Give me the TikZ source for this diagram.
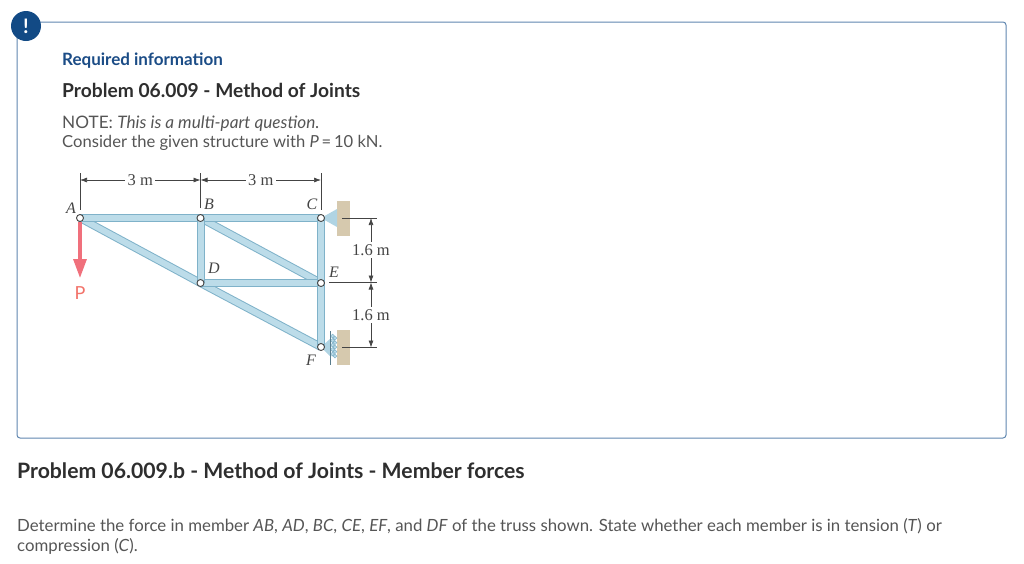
\documentclass[tikz,border=0pt]{standalone}
\usepackage{fontspec}
\setmainfont{Lato}
\newfontfamily\figfont{Liberation Serif}
\usetikzlibrary{backgrounds, arrows.meta}
\definecolor{framecol}{HTML}{5F86AF}
\definecolor{badgecol}{HTML}{124A85}
\definecolor{headcol}{HTML}{1B4C86}
\definecolor{titlecol}{HTML}{2E2E2E}
\definecolor{bodycol}{HTML}{555555}
\definecolor{edgecol}{HTML}{7FB2C9}
\definecolor{barcol}{HTML}{BCDCE9}
\definecolor{wallcol}{HTML}{D6C9AE}
\definecolor{loadcol}{HTML}{F0707C}
\definecolor{dimcol}{HTML}{444444}
\tikzset{
  member/.style={draw=edgecol, line width=1pt, double=barcol, double distance=6pt},
  joint/.style={circle, draw=dimcol, fill=white, line width=0.9pt, inner sep=0pt, minimum size=7pt},
  txt/.style={anchor=west, inner sep=0pt, font=\fontsize{16.8}{20}\selectfont, text=bodycol},
  letter/.style={inner sep=0pt, font=\figfont\itshape\fontsize{16}{18}\selectfont, text=dimcol},
  dimline/.style={draw=dimcol, line width=0.7pt, {Latex[length=7pt,width=5pt]}-{Latex[length=7pt,width=5pt]}},
  extline/.style={draw=dimcol, line width=0.8pt},
  dimtext/.style={fill=white, inner sep=2.5pt, font=\figfont\fontsize{16.5}{18}\selectfont, text=dimcol},
  wall/.style={fill=wallcol, draw=none}
}
\begin{document}
\begin{tikzpicture}[x=1pt, y=-1pt, >=latex]
  \useasboundingbox (0,0) rectangle (1024,563);
  \draw [framecol, line width=1pt, rounded corners=3pt] (17,22) rectangle (1006,438);
  \node (badge) at (26,26) [circle, fill=badgecol, minimum size=30pt, inner sep=0pt, text=white, font=\bfseries\fontsize{20}{20}\selectfont] {!};

  \node (required) at (62,61) [txt, text=headcol, font=\bfseries\fontsize{17}{20}\selectfont] {Required information};
  \node (problem) at (62,90.5) [txt, text=titlecol, font=\bfseries\fontsize{19.2}{23}\selectfont] {Problem 06.009 - Method of Joints};
  \node (note) at (62,123.5) [txt, font=\fontsize{17.2}{20}\selectfont] {NOTE: \textit{This is a multi-part question.}};
  \node (given) at (62,143) [txt, font=\fontsize{16.6}{20}\selectfont] {Consider the given structure with \textit{P}\,=\,10 kN.};
  \node (partb) at (17,471) [txt, text=titlecol, font=\bfseries\fontsize{21.2}{25}\selectfont] {Problem 06.009.b - Method of Joints - Member forces};
  \node (task) at (17,526) [txt] {Determine the force in member \textit{AB}, \textit{AD}, \textit{BC}, \textit{CE}, \textit{EF}, and \textit{DF} of the truss shown. State whether each member is in tension (\textit{T}) or};
  \node (task2) at (17,546) [txt] {compression (\textit{C}).};

  \node (A) at (80,218) [joint] {};
  \node (B) at (200.5,218) [joint] {};
  \node (C) at (321,218) [joint] {};
  \node (D) at (200.5,283) [joint] {};
  \node (E) at (321,283) [joint] {};
  \node (F) at (321,347) [joint] {};

  \begin{pgfonlayer}{background}
    \fill [wall] (337,201) rectangle (350,236);
    \fill [wall] (337,330) rectangle (350,365);
    \fill [barcol!80!edgecol] (C.center) -- (337,209) -- (337,227) -- cycle;
    \fill [barcol!80!edgecol] (F.center) -- (331,338) -- (331,357) -- cycle;
    \draw [member] (A.center) -- (D.center);
    \draw [member] (B.center) -- (E.center);
    \draw [member] (D.center) -- (F.center);
    \draw [member] (A.center) -- (B.center);
    \draw [member] (B.center) -- (C.center);
    \draw [member] (D.center) -- (E.center);
    \draw [member] (B.center) -- (D.center);
    \draw [member] (C.center) -- (E.center);
    \draw [member] (E.center) -- (F.center);
  \end{pgfonlayer}

  \foreach \yy in {336,340.5,345,349.5,354} {
    \draw [edgecol, fill=barcol, line width=0.5pt] (332.5,\yy) circle [radius=1.9];
    \draw [edgecol, fill=barcol, line width=0.5pt] (335,\yy+2.2) circle [radius=1.9];
  }
  \draw [extline, draw=edgecol!70!black, line width=0.7pt] (330.5,331) -- (330.5,365);

  \node at (71,208) [letter] {A};
  \node at (209,204) [letter] {B};
  \node at (312,204) [letter] {C};
  \node at (214,268) [letter] {D};
  \node at (334,272) [letter] {E};
  \node at (311,360) [letter] {F};

  \draw [loadcol, line width=3.2pt, -{Triangle[length=19pt,width=13pt]}] (A) -- (80,278) coordinate (Ptip);
  \node (P) at (80,293) [inner sep=0pt, text=loadcol!85!orange, font=\fontsize{18}{20}\selectfont] {P};

  \coordinate (dA) at (80,180);
  \coordinate (dB) at (200.5,180);
  \coordinate (dC) at (321,180);
  \draw [extline] (80,173) -- (80,210);
  \draw [extline] (200.5,173) -- (200.5,208);
  \draw [extline] (321,173) -- (321,210);
  \draw [dimline] (dA) -- node [dimtext] {3 m} (dB);
  \draw [dimline] (dB) -- node [dimtext] {3 m} (dC);

  \draw [extline] (342,218) -- (377,218) coordinate (eC);
  \draw [extline] (329,282.5) -- (377,282.5) coordinate (eE);
  \draw [extline] (342,347.5) -- (377,347.5) coordinate (eF);
  \draw [dimline] (371,218) -- node [dimtext] {1.6 m} (371,282.5);
  \draw [dimline] (371,282.5) -- node [dimtext] {1.6 m} (371,347.5);
\end{tikzpicture}
\end{document}
